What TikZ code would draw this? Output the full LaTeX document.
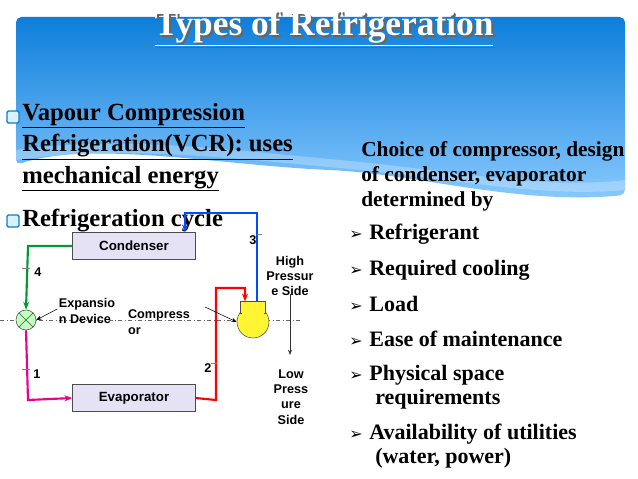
\documentclass[tikz,border=0pt]{standalone}
\usepackage{fontspec}
\setmainfont{Liberation Serif}
\setsansfont{Liberation Sans}
\usepackage{tikz}
\usetikzlibrary{arrows.meta,shapes.misc}
\begin{document}
\begin{tikzpicture}[x=0.75pt,y=-0.75pt,
  comp/.style={draw=black!70,fill=cyan!15!blue!10,minimum width=92pt,minimum height=20pt,font=\sffamily\bfseries\fontsize{10}{11}\selectfont},
  lbl/.style={font=\sffamily\bfseries\fontsize{9.5}{11.5}\selectfont,align=center,inner sep=1pt},
  pipe/.style={line width=1.6pt,-{Stealth[length=6pt]}},
  rb/.style={font=\bfseries\fontsize{16.5}{18}\selectfont,anchor=west,align=left,inner sep=0pt},
  lb/.style={font=\bfseries\fontsize{18.5}{23.5}\selectfont,anchor=north west,align=left,inner sep=0pt},
  chk/.style={draw=cyan!60!blue,fill=cyan!15,line width=1pt,minimum size=9pt,inner sep=0pt,rounded corners=1pt}]
\useasboundingbox (0,0) rectangle (638,478);
\fill[white] (0,0) rectangle (638,478);
% banner
\shade[top color=blue!45!cyan!85!black!95, bottom color=cyan!55!blue!45,rounded corners=4pt]
 (16,17) -- (625,17) -- (625,195) .. controls (520,205) and (420,175) .. (330,170) .. controls (220,165) and (90,140) .. (16,165) -- cycle;
\fill[white,opacity=0.25] (16,150) .. controls (120,135) and (230,150) .. (340,160) .. controls (450,170) and (540,190) .. (625,180) -- (625,190) .. controls (540,198) and (450,178) .. (340,168) .. controls (230,158) and (120,145) .. (16,160) -- cycle;
% title
\node[font=\bfseries\fontsize{26.5}{28}\selectfont,text=black!60] at (326,30) {\underline{Types of Refrigeration}};
\node (title) [font=\bfseries\fontsize{26.5}{28}\selectfont,text=white] at (324,28) {\underline{Types of Refrigeration}};
% left text
\node[chk] (c1) at (13,117) {};
\node[lb] (vcr) at (22,103) {\underline{Vapour Compression}\\\underline{Refrigeration(VCR): uses}\\\underline{mechanical energy}};
\node[chk] (c2) at (13,221) {};
\node[lb,anchor=west] (rc) at (22,221) {Refrigeration cycle};
% right text
\node[font=\bfseries\fontsize{16}{19}\selectfont,anchor=north west,align=left,inner sep=0pt] (ch) at (361,141) {Choice of compressor, design\\of condenser, evaporator\\determined by};
\foreach \y/\t in {234/Refrigerant,270/Required cooling,304/Load,339/Ease of maintenance}
  \node[rb] at (349,\y) {{\fontspec{DejaVu Sans}\fontsize{12}{12}\selectfont ➢}\hspace{5pt}\t};
\node[rb,anchor=north west] at (349,365) {{\fontspec{DejaVu Sans}\fontsize{12}{12}\selectfont ➢}\hspace{5pt}Physical space\\\hspace{19.5pt}requirements};
\node[rb,anchor=north west] at (349,424) {{\fontspec{DejaVu Sans}\fontsize{12}{12}\selectfont ➢}\hspace{5pt}Availability of utilities\\\hspace{19.5pt}(water, power)};
% diagram
\draw[black!60,dash dot] (0,320) -- (300,320);
\node[comp] (cond) at (134,246) {Condenser};
\node[comp] (evap) at (134,398) {Evaporator};
\node[circle,draw=black!70,fill=green!25,minimum size=15pt,inner sep=0pt] (exp) at (26,320) {};
\draw[black!70] (exp.north west) -- (exp.south east) (exp.north east) -- (exp.south west);
\node[circle,draw=black!70,fill=yellow!80,minimum size=24pt,inner sep=0pt] (cmp) at (253,322) {};
\node[draw=black!70,fill=yellow!80,minimum width=19pt,minimum height=9pt,inner sep=0pt,anchor=south] (cmpt) at (253,314) {};
\fill[yellow!80] (242,312) rectangle (264,316);
\coordinate (g1) at (28,246);
\coordinate (m1) at (28,400);
\coordinate (r1) at (216,400);
\coordinate (r2) at (216,288);
\coordinate (r3) at (245,288);
\coordinate (b1) at (257,213);
\coordinate (b2) at (185,213);
\draw[pipe,green!50!black!80!cyan] (cond.west) -- (g1) -- (exp.north);
\draw[pipe,magenta] (exp.south) -- (m1) -- (evap.west);
\draw[pipe,red] (evap.east) -- (r1) -- (r2) -- (r3) -- (cmpt.north west-|r3);
\draw[pipe,blue!70!cyan] (cmpt.north east-|b1) -- (b1) -- (b2) -- (cond.north-|b2);
% labels
\node[lbl] (n3) at (253,240) {3};
\node[lbl] (n4) at (38,272) {4};
\node[lbl] (n1) at (37,374) {1};
\node[lbl] (n2) at (208,368) {2};
\draw[black!50] (257,234) -- (262,234) (22,268) -- (30,268) (22,369) -- (30,369) (211,363) -- (217,363);
\node[lbl] (hp) at (290,276) {High\\Pressur\\e Side};
\node[lbl] (lp) at (291,397) {Low\\Press\\ure\\Side};
\coordinate (hpa) at (290,294);
\coordinate (lpa) at (290,355);
\draw[-{Stealth[length=4pt]},black!80] (hpa) -- (lpa);
\node[lbl,align=left] (ed) at (87,311) {Expansio\\n Device};
\node[lbl,align=left] (cp) at (159,322) {Compress\\or};
\draw[-{Stealth[length=4pt]}] (ed.west) ++(0,-2) -- (exp.east);
\draw[-{Stealth[length=4pt]}] (205,307) -- (cmp.west);
\end{tikzpicture}
\end{document}
